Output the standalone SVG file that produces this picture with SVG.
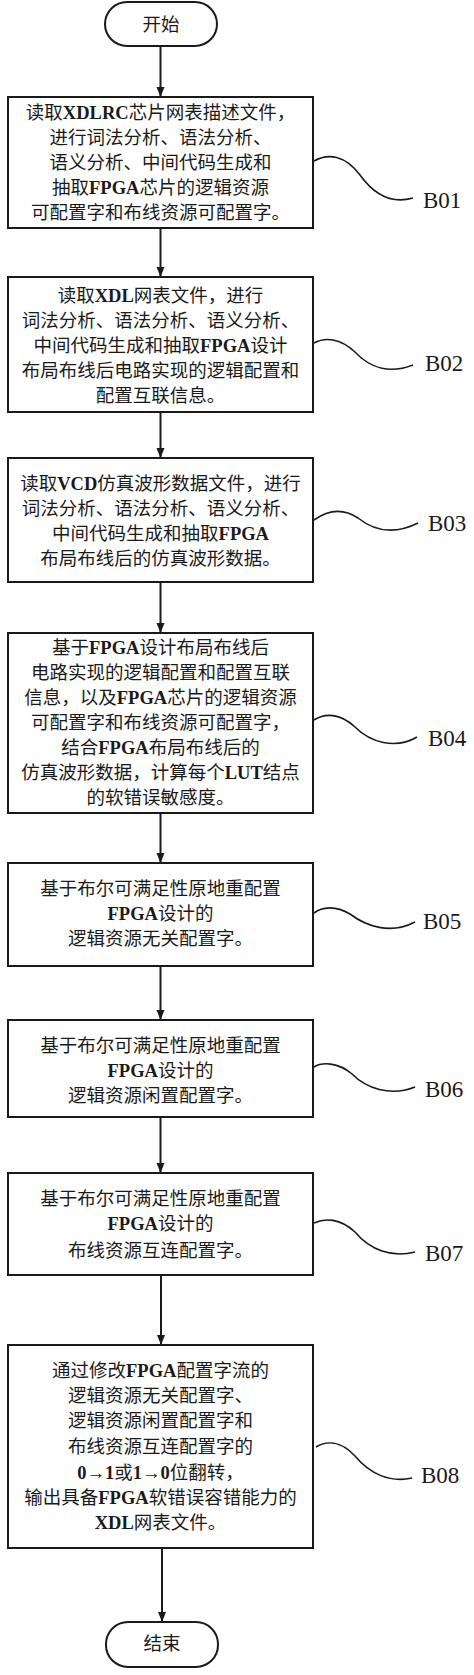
<svg xmlns="http://www.w3.org/2000/svg" width="474" height="1675" viewBox="0 0 474 1675">
<style>
.box{fill:#fff;stroke:#1a1a1a;stroke-width:2}
.t{font-family:"Liberation Serif","Noto Sans CJK SC",serif;font-size:18.5px;fill:#1a1a1a;text-anchor:middle}
.b{font-weight:bold}
.lbl{font-family:"Liberation Serif",serif;font-size:23px;fill:#1a1a1a}
.con{stroke:#1a1a1a;stroke-width:2;fill:none}
.wave{stroke:#1a1a1a;stroke-width:1.6;fill:none}
</style>
<defs>
<marker id="ah" markerWidth="10" markerHeight="10" refX="9" refY="5" orient="auto" markerUnits="userSpaceOnUse">
<path d="M0,1 L10,5 L0,9 Z" fill="#1a1a1a"/>
</marker>
</defs>
<g id="connectors">
<line class="con" x1="160.5" y1="46" x2="160.5" y2="96" marker-end="url(#ah)"/>
<line class="con" x1="160.5" y1="228" x2="160.5" y2="276" marker-end="url(#ah)"/>
<line class="con" x1="160.5" y1="412" x2="160.5" y2="457" marker-end="url(#ah)"/>
<line class="con" x1="160.5" y1="582" x2="160.5" y2="632" marker-end="url(#ah)"/>
<line class="con" x1="160.5" y1="813" x2="160.5" y2="862" marker-end="url(#ah)"/>
<line class="con" x1="160.5" y1="966" x2="160.5" y2="1019" marker-end="url(#ah)"/>
<line class="con" x1="160.5" y1="1117" x2="160.5" y2="1172" marker-end="url(#ah)"/>
<line class="con" x1="161" y1="1275" x2="161" y2="1344" marker-end="url(#ah)"/>
<line class="con" x1="162" y1="1548" x2="162" y2="1621" marker-end="url(#ah)"/>
<path class="wave" d="M314,161 C328,153 345,155 360,175 C375,196 392,204 413,198"/>
<path class="wave" d="M314,343 C325,337 340,338 355,352 C370,368 390,374 413,365"/>
<path class="wave" d="M314,520 C328,510 343,508 358,518 C373,530 392,536 418,523"/>
<path class="wave" d="M314,720 C325,713 340,713 355,727 C370,742 395,750 417,737"/>
<path class="wave" d="M314,913 C322,907 335,905 350,914 C366,926 390,935 415,922"/>
<path class="wave" d="M314,1067 C322,1062 338,1062 352,1074 C366,1088 390,1097 415,1087"/>
<path class="wave" d="M314,1223 C325,1218 340,1218 355,1232 C370,1250 392,1258 415,1252"/>
<path class="wave" d="M316,1447 C326,1441 340,1440 355,1456 C370,1474 390,1483 412,1478"/>
</g>
<g id="start">
<rect class="box" x="105" y="2" width="112" height="44" rx="22"/>
<text class="t" x="161" y="31">开始</text>
</g>
<g id="B01">
<rect class="box" x="8" y="97" width="305" height="131"/>
<text class="t" x="160.5" y="119">读取<tspan class="b">XDLRC</tspan>芯片网表描述文件，</text>
<text class="t" x="160.5" y="144">进行词法分析、语法分析、</text>
<text class="t" x="160.5" y="169">语义分析、中间代码生成和</text>
<text class="t" x="160.5" y="194">抽取<tspan class="b">FPGA</tspan>芯片的逻辑资源</text>
<text class="t" x="160.5" y="219">可配置字和布线资源可配置字。</text>
<text class="lbl" x="423" y="208">B01</text>
</g>
<g id="B02">
<rect class="box" x="8" y="277" width="305" height="135"/>
<text class="t" x="160.5" y="302">读取<tspan class="b">XDL</tspan>网表文件，进行</text>
<text class="t" x="160.5" y="327">词法分析、语法分析、语义分析、</text>
<text class="t" x="160.5" y="352">中间代码生成和抽取<tspan class="b">FPGA</tspan>设计</text>
<text class="t" x="160.5" y="377">布局布线后电路实现的逻辑配置和</text>
<text class="t" x="160.5" y="402">配置互联信息。</text>
<text class="lbl" x="425" y="371">B02</text>
</g>
<g id="B03">
<rect class="box" x="8" y="458" width="305" height="124"/>
<text class="t" x="160.5" y="490">读取<tspan class="b">VCD</tspan>仿真波形数据文件，进行</text>
<text class="t" x="160.5" y="515">词法分析、语法分析、语义分析、</text>
<text class="t" x="160.5" y="540">中间代码生成和抽取<tspan class="b">FPGA</tspan></text>
<text class="t" x="160.5" y="565">布局布线后的仿真波形数据。</text>
<text class="lbl" x="428" y="531">B03</text>
</g>
<g id="B04">
<rect class="box" x="8" y="633" width="305" height="180"/>
<text class="t" x="160.5" y="654">基于<tspan class="b">FPGA</tspan>设计布局布线后</text>
<text class="t" x="160.5" y="679">电路实现的逻辑配置和配置互联</text>
<text class="t" x="160.5" y="704">信息，以及<tspan class="b">FPGA</tspan>芯片的逻辑资源</text>
<text class="t" x="160.5" y="729">可配置字和布线资源可配置字，</text>
<text class="t" x="160.5" y="754">结合<tspan class="b">FPGA</tspan>布局布线后的</text>
<text class="t" x="160.5" y="779">仿真波形数据，计算每个<tspan class="b">LUT</tspan>结点</text>
<text class="t" x="160.5" y="804">的软错误敏感度。</text>
<text class="lbl" x="428" y="746">B04</text>
</g>
<g id="B05">
<rect class="box" x="8" y="863" width="305" height="103"/>
<text class="t" x="160.5" y="895">基于布尔可满足性原地重配置</text>
<text class="t" x="160.5" y="920"><tspan class="b">FPGA</tspan>设计的</text>
<text class="t" x="160.5" y="945">逻辑资源无关配置字。</text>
<text class="lbl" x="423" y="929">B05</text>
</g>
<g id="B06">
<rect class="box" x="8" y="1020" width="305" height="97"/>
<text class="t" x="160.5" y="1052">基于布尔可满足性原地重配置</text>
<text class="t" x="160.5" y="1077"><tspan class="b">FPGA</tspan>设计的</text>
<text class="t" x="160.5" y="1102">逻辑资源闲置配置字。</text>
<text class="lbl" x="425" y="1097">B06</text>
</g>
<g id="B07">
<rect class="box" x="8" y="1173" width="305" height="102"/>
<text class="t" x="160.5" y="1205">基于布尔可满足性原地重配置</text>
<text class="t" x="160.5" y="1230"><tspan class="b">FPGA</tspan>设计的</text>
<text class="t" x="160.5" y="1257">布线资源互连配置字。</text>
<text class="lbl" x="425" y="1261">B07</text>
</g>
<g id="B08">
<rect class="box" x="8" y="1345" width="305" height="203"/>
<text class="t" x="160.5" y="1377">通过修改<tspan class="b">FPGA</tspan>配置字流的</text>
<text class="t" x="160.5" y="1402">逻辑资源无关配置字、</text>
<text class="t" x="160.5" y="1427">逻辑资源闲置配置字和</text>
<text class="t" x="160.5" y="1453">布线资源互连配置字的</text>
<text class="t" x="160.5" y="1479"><tspan class="b">0→1</tspan>或<tspan class="b">1→0</tspan>位翻转，</text>
<text class="t" x="160.5" y="1504">输出具备<tspan class="b">FPGA</tspan>软错误容错能力的</text>
<text class="t" x="160.5" y="1529"><tspan class="b">XDL</tspan>网表文件。</text>
<text class="lbl" x="421" y="1483">B08</text>
</g>
<g id="end">
<rect class="box" x="106" y="1622" width="112" height="45" rx="22"/>
<text class="t" x="162" y="1650">结束</text>
</g>
</svg>
